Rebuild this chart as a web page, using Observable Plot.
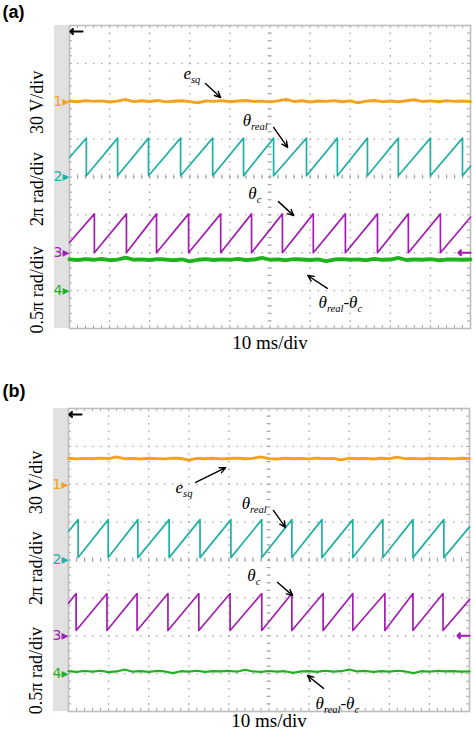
<!DOCTYPE html>
<html>
<head>
<meta charset="utf-8">
<script src="https://cdn.jsdelivr.net/npm/d3@7"></script>
<script src="https://cdn.jsdelivr.net/npm/@observablehq/plot@0.6"></script>
<style>
  body { margin: 0; background: #fff; }
  #chart { width: 474px; }
  #chart svg { display: block; }
</style>
</head>
<body>
<div id="chart"></div>
<script>
// Oscilloscope screen: 10 horizontal divisions of 10 ms, 8 vertical divisions
const timeDomain = [0, 100];     // ms
const divDomain = [0, 8];        // divisions, counted from the bottom
const sampleMs = 2;              // spacing of the hand-read noisy samples

// Channel settings: ground marker (div) and units per division
const channelNames = ["1", "2", "3", "4"];
const channelColors = ["#f5a11b", "#1fb0a6", "#a31db2", "#1db31d"];
const channelOffsets = [6, 4, 2, 1];
const channelScales = [30, 2 * Math.PI, 2 * Math.PI, 0.5 * Math.PI];
const triggerLevel = 2;          // ch3 trigger level (div)

// ---- (a) ----
const dropsRealA = [4.2, 12.0, 19.7, 27.7, 35.7, 43.4, 50.9, 59.1, 66.8, 74.3, 82.0, 90.0, 98.0];
const dropsEstA = [6.2, 14.2, 21.7, 29.7, 37.7, 45.4, 53.1, 60.8, 68.8, 76.8, 84.5, 92.5];
const rangeRealA = [0.2, 6.45];     // rad, low / high of the sawtooth
const rangeEstA = [0.0, 6.45];
const endsRealA = [3.24, 1.8];      // rad at t = 0 and t = 100 ms
const endsEstA = [1.70, 5.9];
const esqA = [0.2, -0.4, 0.5, -0.1, 0.3, -0.6, 0.1, 1.4, -0.3, 0.4,
  -0.2, 0.6, -0.5, 0.0, 0.4, -0.3, -1.3, 0.3, -0.1, 0.5,
  -0.4, 0.2, 0.6, -0.2, 0.1, -0.5, 0.3, 1.5, -0.2, 0.4,
  -0.6, 0.2, -0.1, 0.5, -0.4, 0.3, -1.2, 0.1, 0.6, -0.3,
  0.2, -0.5, 0.4, 1.3, -0.2, 0.3, -0.4, 0.5, -0.1, 0.2, -0.3];
const errA = [1.30, 1.27, 1.31, 1.28, 1.32, 1.26, 1.29, 1.37, 1.28, 1.30,
  1.27, 1.31, 1.29, 1.26, 1.30, 1.21, 1.28, 1.31, 1.27, 1.30,
  1.28, 1.32, 1.27, 1.29, 1.36, 1.28, 1.30, 1.26, 1.31, 1.29,
  1.27, 1.30, 1.22, 1.29, 1.31, 1.28, 1.30, 1.26, 1.32, 1.28,
  1.29, 1.36, 1.27, 1.30, 1.28, 1.31, 1.26, 1.29, 1.30, 1.28, 1.29];

// ---- (b) ----
const dropsRealB = [2.4, 9.9, 17.3, 25.1, 32.8, 40.5, 48.2, 55.7, 63.2, 70.9, 78.4, 85.9, 93.6];
const dropsEstB = [1.9, 9.6, 17.1, 24.8, 32.5, 40.3, 48.2, 55.7, 63.5, 70.9, 78.9, 85.9, 93.4];
const rangeRealB = [0.4, 6.7];
const rangeEstB = [0.87, 7.0];
const endsRealB = [4.75, 5.5];
const endsEstB = [5.4, 6.0];
const esqB = [20.6, 20.1, 20.5, 20.2, 20.7, 20.3, 21.6, 20.2, 20.5, 20.0,
  20.6, 20.3, 20.1, 20.7, 20.4, 19.2, 20.5, 20.2, 20.6, 20.1,
  20.4, 20.7, 20.2, 20.5, 21.7, 20.3, 20.0, 20.6, 20.2, 20.5,
  20.1, 20.7, 20.3, 20.4, 19.3, 20.6, 20.2, 20.5, 20.0, 20.6,
  20.3, 21.5, 20.2, 20.5, 20.1, 20.6, 20.3, 20.4, 20.1, 20.6, 20.3];
const errB = [0.10, 0.07, 0.11, 0.08, 0.12, 0.06, 0.09, 0.17, 0.08, 0.10,
  0.07, 0.11, 0.09, 0.02, 0.10, 0.08, 0.12, 0.07, 0.10, 0.09,
  0.11, 0.08, 0.16, 0.09, 0.07, 0.11, 0.08, 0.10, 0.03, 0.09,
  0.10, 0.07, 0.12, 0.08, 0.10, 0.17, 0.09, 0.11, 0.07, 0.10,
  0.08, 0.12, 0.09, 0.02, 0.10, 0.08, 0.11, 0.09, 0.10, 0.08, 0.09];

// Text
const scaleLabels = ["30 V/div", "2π rad/div", "0.5π rad/div"];
const timeLabel = "10 ms/div";
const traceNames = ["e_{sq}", "θ_{real}", "θ_{c}", "θ_{real}-θ_{c}"];

// Callout placement (ms, div) for each trace name
const notesA = [
  {tx: 28.4, ty: 6.73, x1: 33.9, y1: 6.47, x2: 37.7, y2: 6.10},
  {tx: 43.2, ty: 5.49, x1: 50.9, y1: 5.31, x2: 54.4, y2: 4.78},
  {tx: 44.6, ty: 3.56, x1: 52.1, y1: 3.35, x2: 55.9, y2: 2.98},
  {tx: 62.1, ty: 0.69, x1: 64.3, y1: 1.06, x2: 59.4, y2: 1.40}
];
const notesB = [
  {tx: 26.7, ty: 5.91, x1: 31.7, y1: 6.05, x2: 39.2, y2: 6.44},
  {tx: 43.2, ty: 5.49, x1: 51.1, y1: 5.31, x2: 54.1, y2: 4.86},
  {tx: 44.6, ty: 3.59, x1: 52.1, y1: 3.41, x2: 55.9, y2: 3.06},
  {tx: 61.6, ty: 0.21, x1: 63.6, y1: 0.61, x2: 59.6, y2: 0.95}
];
const scaleLabelPosA = [5.97, 3.68, 1.02];
const scaleLabelPosB = [6.05, 3.78, 1.08];

// ---------------------------------------------------------------
const toDiv = (ch, value) => channelOffsets[ch] + value / channelScales[ch];

// Sawtooth trace from its reset instants, levels and end values
function sawtooth(ch, drops, [lo, hi], [v0, v1]) {
  const pts = [{t: timeDomain[0], v: toDiv(ch, v0)}];
  for (const t of drops) {
    pts.push({t, v: toDiv(ch, hi)}, {t, v: toDiv(ch, lo)});
  }
  pts.push({t: timeDomain[1], v: toDiv(ch, v1)});
  return pts;
}
const sampled = (ch, values) => values.map((val, i) => ({t: i * sampleMs, v: toDiv(ch, val)}));

const majorX = d3.range(10, 100, 10);
const majorY = d3.range(1, 8, 1);
const minorX = d3.range(0, 100.001, 2);
const minorY = d3.range(0, 8.001, 0.2);
const channels = channelNames.map((name, i) => ({name, color: channelColors[i], offset: channelOffsets[i]}));

const grid = "#a4a4a4";
const serif = "Liberation Serif, Times New Roman, serif";

function panel(cfg) {
  const notes = cfg.notes.map((n, i) => ({...n, label: traceNames[i]}));
  const yLabels = scaleLabels.map((text, i) => ({text, y: cfg.labelPos[i]}));
  return Plot.plot({
    width: 474,
    height: cfg.height,
    marginTop: cfg.marginTop,
    marginBottom: cfg.marginBottom,
    marginLeft: cfg.marginLeft,
    marginRight: cfg.marginRight,
    x: {domain: timeDomain, axis: null},
    y: {domain: divDomain, axis: null},
    color: {type: "identity"},
    style: {background: "white", overflow: "visible"},
    marks: [
      // grey channel strip left of the screen
      Plot.ruleX([timeDomain[0]], {x: d => d, y1: divDomain[0], y2: divDomain[1], stroke: "#e1e1e1", strokeWidth: 15, dx: -8}),
      // dotted division grid
      Plot.ruleX(majorX, {x: d => d, stroke: grid, strokeWidth: 1.4, strokeDasharray: "1.4,6.17"}),
      Plot.ruleY(majorY, {y: d => d, stroke: grid, strokeWidth: 1.4, strokeDasharray: "1.4,6.62"}),
      // minor ticks on the centre lines
      Plot.ruleY(minorY, {y: d => d, x1: 49.5, x2: 50.5, stroke: grid}),
      Plot.ruleX(minorX, {x: d => d, y1: 3.94, y2: 4.06, stroke: grid}),
      // minor ticks on the border
      Plot.ruleX(minorX, {x: d => d, y1: 8, y2: 7.92, stroke: grid}),
      Plot.ruleX(minorX, {x: d => d, y1: 0, y2: 0.08, stroke: grid}),
      Plot.ruleY(minorY, {y: d => d, x1: 0, x2: 0.75, stroke: grid}),
      Plot.ruleY(minorY, {y: d => d, x1: 99.25, x2: 100, stroke: grid}),
      Plot.frame({stroke: "#bdbdbd", strokeWidth: 1.6}),
      // traces
      Plot.line(sampled(0, cfg.esq), {x: "t", y: "v", stroke: channelColors[0], strokeWidth: 2.8}),
      Plot.line(sawtooth(1, cfg.dropsReal, cfg.rangeReal, cfg.endsReal), {x: "t", y: "v", stroke: channelColors[1], strokeWidth: 1.7}),
      Plot.line(sawtooth(2, cfg.dropsEst, cfg.rangeEst, cfg.endsEst), {x: "t", y: "v", stroke: channelColors[2], strokeWidth: 1.7}),
      Plot.line(sampled(3, cfg.err), {x: "t", y: "v", stroke: channelColors[3], strokeWidth: cfg.errWidth}),
      // channel ground markers
      Plot.text(channels, {x: timeDomain[0], y: "offset", text: d => d.name + "▸", fill: "color",
        textAnchor: "end", lineAnchor: "middle", dx: 0, fontSize: 14, fontFamily: "DejaVu Sans"}),
      // trigger position (top left) and ch3 trigger level (right edge)
      Plot.vector([timeDomain[0]], {x: d => d, y: divDomain[1], length: 12, rotate: -90, dx: 7, dy: 6,
        stroke: "black", strokeWidth: 2.2}),
      Plot.vector([triggerLevel], {x: timeDomain[1], y: d => d, length: 12, rotate: -90, dx: -6,
        stroke: channelColors[2], strokeWidth: 2.2}),
      // callouts
      Plot.arrow(notes, {x1: "x1", y1: "y1", x2: "x2", y2: "y2", stroke: "black", strokeWidth: 1.4, headLength: 7, headAngle: 50}),
      Plot.text(notes, {x: "tx", y: "ty", text: "label", textAnchor: "start", lineAnchor: "middle", fontFamily: serif,
        fontStyle: "italic", fontSize: 17, fill: "black"}),
      // scale labels
      Plot.text(yLabels, {y: "y", text: "text", frameAnchor: "left", textAnchor: "middle", lineAnchor: "middle",
        dx: -32, rotate: -90, fontFamily: serif, fontSize: 18, fill: "black"}),
      Plot.text([timeLabel], {frameAnchor: "bottom", text: d => d, textAnchor: "middle", lineAnchor: "middle", dy: cfg.captionDy,
        fontFamily: serif, fontSize: 19, fill: "black"}),
      Plot.text([cfg.tag], {frameAnchor: "top-left", text: d => d, textAnchor: "start", lineAnchor: "middle",
        dx: -cfg.marginLeft + 2, dy: cfg.tagDy,
        fontFamily: "Liberation Sans, Arial, sans-serif", fontWeight: "bold", fontSize: 18, fill: "black"})
    ]
  });
}

// Render "x_{sub}" as a lowered, smaller tspan
function subscripts(svg) {
  d3.select(svg).selectAll("text").each(function () {
    const s = this.textContent;
    if (!s.includes("_{")) return;
    const parts = s.split(/(_\{[^}]*\})/).filter(p => p);
    const el = d3.select(this).text(null);
    let low = false;
    for (const p of parts) {
      const sub = p.startsWith("_{");
      const t = el.append("tspan").text(sub ? p.slice(2, -1) : p);
      if (sub) {
        t.attr("font-size", "0.62em");
        if (!low) t.attr("dy", 4);
        low = true;
      } else if (low) {
        t.attr("dy", -4);
        low = false;
      }
    }
  });
  return svg;
}

const chart = document.getElementById("chart");
chart.append(subscripts(panel({
  tag: "(a)", height: 366, marginTop: 25, marginBottom: 38, marginLeft: 69, marginRight: 4,
  dropsReal: dropsRealA, dropsEst: dropsEstA, rangeReal: rangeRealA, rangeEst: rangeEstA,
  endsReal: endsRealA, endsEst: endsEstA, esq: esqA, err: errA, errWidth: 3.8,
  notes: notesA, labelPos: scaleLabelPosA, captionDy: 14.5, tagDy: -13
})));
chart.append(subscripts(panel({
  tag: "(b)", height: 365, marginTop: 42, marginBottom: 20, marginLeft: 68, marginRight: 5,
  dropsReal: dropsRealB, dropsEst: dropsEstB, rangeReal: rangeRealB, rangeEst: rangeEstB,
  endsReal: endsRealB, endsEst: endsEstB, esq: esqB, err: errB, errWidth: 2.2,
  notes: notesB, labelPos: scaleLabelPosB, captionDy: 9.5, tagDy: -17
})));
</script>
</body>
</html>
